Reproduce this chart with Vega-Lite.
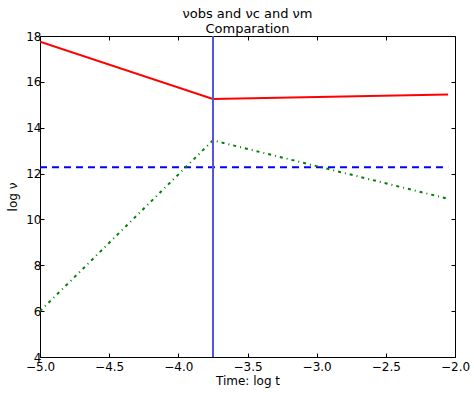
{
  "$schema": "https://vega.github.io/schema/vega-lite/v6.json",
  "width": 415,
  "height": 321,
  "autosize": {"type": "none"},
  "padding": {"left": 40, "top": 36, "right": 19, "bottom": 38},
  "background": "white",
  "config": {
    "font": "DejaVu Sans",
    "view": {"stroke": "black", "strokeWidth": 1},
    "axis": {"grid": false, "domain": false, "tickColor": "black", "tickSize": -4, "labelFlush": false, "labelOverlap": false, "labelColor": "black", "labelFontSize": 12, "titleFontSize": 12, "titleFontWeight": "normal", "titleColor": "black", "labelFont": "DejaVu Sans", "titleFont": "DejaVu Sans"}
  },
  "title": {"text": ["νobs and νc and νm", "Comparation"], "fontSize": 13, "fontWeight": "normal", "font": "DejaVu Sans", "lineHeight": 15, "offset": -6, "color": "black"},
  "data": {"values": [
    {"series": "obs", "x": -5.0, "y": 17.75},
    {"series": "obs", "x": -3.75, "y": 15.25},
    {"series": "obs", "x": -2.05, "y": 15.45},
    {"series": "c", "x": -5.0, "y": 12.28},
    {"series": "c", "x": -2.05, "y": 12.28},
    {"series": "m", "x": -5.0, "y": 6.0},
    {"series": "m", "x": -3.75, "y": 13.45},
    {"series": "m", "x": -2.05, "y": 10.9}
  ]},
  "resolve": {"axis": {"x": "independent", "y": "independent"}},
  "layer": [
    {
      "transform": [{"filter": "datum.series === 'obs'"}],
      "mark": {"type": "line", "color": "#ff0000", "strokeWidth": 2, "clip": true},
      "encoding": {
        "x": {"field": "x", "type": "quantitative", "scale": {"domain": [-5, -2], "nice": false, "zero": false}, "axis": {"title": "Time: log t", "values": [-5, -4.5, -4, -3.5, -3, -2.5, -2], "format": ".1f", "labelPadding": 8, "titlePadding": 3, "orient": "bottom"}},
        "y": {"field": "y", "type": "quantitative", "scale": {"domain": [4, 18], "nice": false, "zero": false}, "axis": {"title": "log ν", "values": [4, 6, 8, 10, 12, 14, 16, 18], "labelPadding": 3, "titlePadding": 6, "orient": "left"}}
      }
    },
    {
      "transform": [{"filter": "datum.series === 'c'"}],
      "mark": {"type": "line", "color": "#0000ff", "strokeWidth": 2, "strokeDash": [7, 5], "clip": true},
      "encoding": {
        "x": {"field": "x", "type": "quantitative", "axis": {"orient": "top", "labels": false, "title": null, "values": [-5, -4.5, -4, -3.5, -3, -2.5, -2]}},
        "y": {"field": "y", "type": "quantitative", "axis": {"orient": "right", "labels": false, "title": null, "values": [4, 6, 8, 10, 12, 14, 16, 18]}}
      }
    },
    {
      "transform": [{"filter": "datum.series === 'm'"}],
      "mark": {"type": "line", "color": "#008000", "strokeWidth": 2, "strokeDash": [3, 4, 1, 4], "clip": true},
      "encoding": {
        "x": {"field": "x", "type": "quantitative", "axis": null},
        "y": {"field": "y", "type": "quantitative", "axis": null}
      }
    },
    {
      "mark": {"type": "rule", "color": "#5555dd", "strokeWidth": 1.2},
      "encoding": {"x": {"datum": -3.75, "type": "quantitative", "axis": null}}
    }
  ]
}
